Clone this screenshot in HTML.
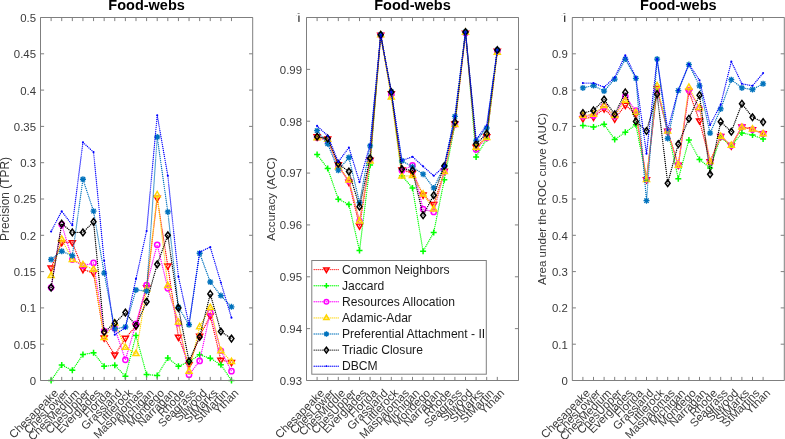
<!DOCTYPE html>
<html><head><meta charset="utf-8"><title>Food-webs</title>
<style>
html,body{margin:0;padding:0;background:#fff;}
body{width:785px;height:439px;overflow:hidden;}
svg{display:block;}
.ln{fill:none;stroke-width:1.4;stroke-dasharray:0 2;stroke-linecap:round;}
.mk{fill:none;stroke-width:1.5;}
.pa{stroke-width:1.3;}
.tl{font-family:'Liberation Sans', Arial, Helvetica, sans-serif;font-size:11.4px;fill:#3a3a3a;}
.yl{font-family:'Liberation Sans', Arial, Helvetica, sans-serif;font-size:12px;fill:#3a3a3a;}
.lg{font-family:'Liberation Sans', Arial, Helvetica, sans-serif;font-size:12.1px;fill:#1a1a1a;}
.ti{font-family:'Liberation Sans', Arial, Helvetica, sans-serif;font-size:14.5px;font-weight:bold;fill:#000;}
</style></head>
<body>
<svg width="785" height="439" viewBox="0 0 785 439">
<rect width="785" height="439" fill="#fff"/>
<g><polyline points="51.11,267.97 61.72,242.56 72.33,242.56 82.94,269.42 93.55,273.05 104.16,337.88 114.77,354.94 125.38,338.25 135.99,326.05 146.6,287.57 157.21,198.27 167.82,266.01 178.43,337.09 189.04,364.53 199.65,336.21 210.26,315.81 220.87,360.17 231.48,362.35" class="ln" stroke="#ff0000"/><path d="M48.11 266.07H54.11L51.11 271.27Z" class="mk" stroke="#ff0000"/><path d="M58.72 240.66H64.72L61.72 245.86Z" class="mk" stroke="#ff0000"/><path d="M69.33 240.66H75.33L72.33 245.86Z" class="mk" stroke="#ff0000"/><path d="M79.94 267.52H85.94L82.94 272.72Z" class="mk" stroke="#ff0000"/><path d="M90.55 271.15H96.55L93.55 276.35Z" class="mk" stroke="#ff0000"/><path d="M101.16 335.98H107.16L104.16 341.18Z" class="mk" stroke="#ff0000"/><path d="M111.77 353.04H117.77L114.77 358.24Z" class="mk" stroke="#ff0000"/><path d="M122.38 336.35H128.38L125.38 341.55Z" class="mk" stroke="#ff0000"/><path d="M132.99 324.15H138.99L135.99 329.35Z" class="mk" stroke="#ff0000"/><path d="M143.6 285.67H149.6L146.6 290.87Z" class="mk" stroke="#ff0000"/><path d="M154.21 196.37H160.21L157.21 201.57Z" class="mk" stroke="#ff0000"/><path d="M164.82 264.11H170.82L167.82 269.31Z" class="mk" stroke="#ff0000"/><path d="M175.43 335.19H181.43L178.43 340.39Z" class="mk" stroke="#ff0000"/><path d="M186.04 362.63H192.04L189.04 367.83Z" class="mk" stroke="#ff0000"/><path d="M196.65 334.31H202.65L199.65 339.51Z" class="mk" stroke="#ff0000"/><path d="M207.26 313.91H213.26L210.26 319.11Z" class="mk" stroke="#ff0000"/><path d="M217.87 358.27H223.87L220.87 363.47Z" class="mk" stroke="#ff0000"/><path d="M228.48 360.45H234.48L231.48 365.65Z" class="mk" stroke="#ff0000"/><polyline points="51.11,380.5 61.72,365.04 72.33,370.34 82.94,354.58 93.55,352.69 104.16,366.27 114.77,365.25 125.38,376.22 135.99,335.49 146.6,374.62 157.21,375.42 167.82,357.99 178.43,366.27 189.04,361.77 199.65,354.8 210.26,358.28 220.87,364.67 231.48,380.5" class="ln" stroke="#00ff00"/><path d="M48.11 380.5H54.11M51.11 377.5V383.5" class="mk" stroke="#00ff00"/><path d="M58.72 365.04H64.72M61.72 362.04V368.04" class="mk" stroke="#00ff00"/><path d="M69.33 370.34H75.33M72.33 367.34V373.34" class="mk" stroke="#00ff00"/><path d="M79.94 354.58H85.94M82.94 351.58V357.58" class="mk" stroke="#00ff00"/><path d="M90.55 352.69H96.55M93.55 349.69V355.69" class="mk" stroke="#00ff00"/><path d="M101.16 366.27H107.16M104.16 363.27V369.27" class="mk" stroke="#00ff00"/><path d="M111.77 365.25H117.77M114.77 362.25V368.25" class="mk" stroke="#00ff00"/><path d="M122.38 376.22H128.38M125.38 373.22V379.22" class="mk" stroke="#00ff00"/><path d="M132.99 335.49H138.99M135.99 332.49V338.49" class="mk" stroke="#00ff00"/><path d="M143.6 374.62H149.6M146.6 371.62V377.62" class="mk" stroke="#00ff00"/><path d="M154.21 375.42H160.21M157.21 372.42V378.42" class="mk" stroke="#00ff00"/><path d="M164.82 357.99H170.82M167.82 354.99V360.99" class="mk" stroke="#00ff00"/><path d="M175.43 366.27H181.43M178.43 363.27V369.27" class="mk" stroke="#00ff00"/><path d="M186.04 361.77H192.04M189.04 358.77V364.77" class="mk" stroke="#00ff00"/><path d="M196.65 354.8H202.65M199.65 351.8V357.8" class="mk" stroke="#00ff00"/><path d="M207.26 358.28H213.26M210.26 355.28V361.28" class="mk" stroke="#00ff00"/><path d="M217.87 364.67H223.87M220.87 361.67V367.67" class="mk" stroke="#00ff00"/><path d="M228.48 380.5H234.48M231.48 377.5V383.5" class="mk" stroke="#00ff00"/><polyline points="51.11,287.57 61.72,224.41 72.33,259.62 82.94,265.79 93.55,262.89 104.16,331.13 114.77,328.23 125.38,359.81 135.99,323.87 146.6,285.1 157.21,244.74 167.82,288.3 178.43,323.15 189.04,374.69 199.65,360.97 210.26,312.4 220.87,350.73 231.48,371.21" class="ln" stroke="#ff00ff"/><circle cx="51.11" cy="287.57" r="2.6" class="mk" stroke="#ff00ff"/><circle cx="61.72" cy="224.41" r="2.6" class="mk" stroke="#ff00ff"/><circle cx="72.33" cy="259.62" r="2.6" class="mk" stroke="#ff00ff"/><circle cx="82.94" cy="265.79" r="2.6" class="mk" stroke="#ff00ff"/><circle cx="93.55" cy="262.89" r="2.6" class="mk" stroke="#ff00ff"/><circle cx="104.16" cy="331.13" r="2.6" class="mk" stroke="#ff00ff"/><circle cx="114.77" cy="328.23" r="2.6" class="mk" stroke="#ff00ff"/><circle cx="125.38" cy="359.81" r="2.6" class="mk" stroke="#ff00ff"/><circle cx="135.99" cy="323.87" r="2.6" class="mk" stroke="#ff00ff"/><circle cx="146.6" cy="285.1" r="2.6" class="mk" stroke="#ff00ff"/><circle cx="157.21" cy="244.74" r="2.6" class="mk" stroke="#ff00ff"/><circle cx="167.82" cy="288.3" r="2.6" class="mk" stroke="#ff00ff"/><circle cx="178.43" cy="323.15" r="2.6" class="mk" stroke="#ff00ff"/><circle cx="189.04" cy="374.69" r="2.6" class="mk" stroke="#ff00ff"/><circle cx="199.65" cy="360.97" r="2.6" class="mk" stroke="#ff00ff"/><circle cx="210.26" cy="312.4" r="2.6" class="mk" stroke="#ff00ff"/><circle cx="220.87" cy="350.73" r="2.6" class="mk" stroke="#ff00ff"/><circle cx="231.48" cy="371.21" r="2.6" class="mk" stroke="#ff00ff"/><polyline points="51.11,275.67 61.72,239.22 72.33,259.62 82.94,264.7 93.55,269.42 104.16,337.67 114.77,323.15 125.38,347.47 135.99,353.64 146.6,289.02 157.21,194.79 167.82,285.61 178.43,322.2 189.04,371.28 199.65,326.78 210.26,307.61 220.87,350.73 231.48,361.62" class="ln" stroke="#ffd500"/><path d="M48.11 277.57H54.11L51.11 272.37Z" class="mk" stroke="#ffd500"/><path d="M58.72 241.12H64.72L61.72 235.92Z" class="mk" stroke="#ffd500"/><path d="M69.33 261.52H75.33L72.33 256.32Z" class="mk" stroke="#ffd500"/><path d="M79.94 266.6H85.94L82.94 261.4Z" class="mk" stroke="#ffd500"/><path d="M90.55 271.32H96.55L93.55 266.12Z" class="mk" stroke="#ffd500"/><path d="M101.16 339.57H107.16L104.16 334.37Z" class="mk" stroke="#ffd500"/><path d="M111.77 325.05H117.77L114.77 319.85Z" class="mk" stroke="#ffd500"/><path d="M122.38 349.37H128.38L125.38 344.17Z" class="mk" stroke="#ffd500"/><path d="M132.99 355.54H138.99L135.99 350.34Z" class="mk" stroke="#ffd500"/><path d="M143.6 290.92H149.6L146.6 285.72Z" class="mk" stroke="#ffd500"/><path d="M154.21 196.69H160.21L157.21 191.49Z" class="mk" stroke="#ffd500"/><path d="M164.82 287.51H170.82L167.82 282.31Z" class="mk" stroke="#ffd500"/><path d="M175.43 324.1H181.43L178.43 318.9Z" class="mk" stroke="#ffd500"/><path d="M186.04 373.18H192.04L189.04 367.98Z" class="mk" stroke="#ffd500"/><path d="M196.65 328.68H202.65L199.65 323.48Z" class="mk" stroke="#ffd500"/><path d="M207.26 309.51H213.26L210.26 304.31Z" class="mk" stroke="#ffd500"/><path d="M217.87 352.63H223.87L220.87 347.43Z" class="mk" stroke="#ffd500"/><path d="M228.48 363.52H234.48L231.48 358.32Z" class="mk" stroke="#ffd500"/><polyline points="51.11,259.48 61.72,251.27 72.33,255.77 82.94,179.25 93.55,211.2 104.16,273.05 114.77,328.95 125.38,326.99 135.99,289.9 146.6,291.2 157.21,137 167.82,211.92 178.43,307.17 189.04,324.74 199.65,253.23 210.26,281.98 220.87,295.56 231.48,306.81" class="ln" stroke="#0072bd"/><path d="M48.11 259.48H54.11M51.11 256.48V262.48M48.91 257.28L53.31 261.68M48.91 261.68L53.31 257.28" class="mk pa" stroke="#0072bd"/><path d="M58.72 251.27H64.72M61.72 248.27V254.27M59.52 249.07L63.92 253.47M59.52 253.47L63.92 249.07" class="mk pa" stroke="#0072bd"/><path d="M69.33 255.77H75.33M72.33 252.77V258.77M70.13 253.57L74.53 257.97M70.13 257.97L74.53 253.57" class="mk pa" stroke="#0072bd"/><path d="M79.94 179.25H85.94M82.94 176.25V182.25M80.74 177.05L85.14 181.45M80.74 181.45L85.14 177.05" class="mk pa" stroke="#0072bd"/><path d="M90.55 211.2H96.55M93.55 208.2V214.2M91.35 209L95.75 213.4M91.35 213.4L95.75 209" class="mk pa" stroke="#0072bd"/><path d="M101.16 273.05H107.16M104.16 270.05V276.05M101.96 270.85L106.36 275.25M101.96 275.25L106.36 270.85" class="mk pa" stroke="#0072bd"/><path d="M111.77 328.95H117.77M114.77 325.95V331.95M112.57 326.75L116.97 331.15M112.57 331.15L116.97 326.75" class="mk pa" stroke="#0072bd"/><path d="M122.38 326.99H128.38M125.38 323.99V329.99M123.18 324.79L127.58 329.19M123.18 329.19L127.58 324.79" class="mk pa" stroke="#0072bd"/><path d="M132.99 289.9H138.99M135.99 286.9V292.9M133.79 287.7L138.19 292.1M133.79 292.1L138.19 287.7" class="mk pa" stroke="#0072bd"/><path d="M143.6 291.2H149.6M146.6 288.2V294.2M144.4 289L148.8 293.4M144.4 293.4L148.8 289" class="mk pa" stroke="#0072bd"/><path d="M154.21 137H160.21M157.21 134V140M155.01 134.8L159.41 139.2M155.01 139.2L159.41 134.8" class="mk pa" stroke="#0072bd"/><path d="M164.82 211.92H170.82M167.82 208.92V214.92M165.62 209.72L170.02 214.12M165.62 214.12L170.02 209.72" class="mk pa" stroke="#0072bd"/><path d="M175.43 307.17H181.43M178.43 304.17V310.17M176.23 304.97L180.63 309.37M176.23 309.37L180.63 304.97" class="mk pa" stroke="#0072bd"/><path d="M186.04 324.74H192.04M189.04 321.74V327.74M186.84 322.54L191.24 326.94M186.84 326.94L191.24 322.54" class="mk pa" stroke="#0072bd"/><path d="M196.65 253.23H202.65M199.65 250.23V256.23M197.45 251.03L201.85 255.43M197.45 255.43L201.85 251.03" class="mk pa" stroke="#0072bd"/><path d="M207.26 281.98H213.26M210.26 278.98V284.98M208.06 279.78L212.46 284.18M208.06 284.18L212.46 279.78" class="mk pa" stroke="#0072bd"/><path d="M217.87 295.56H223.87M220.87 292.56V298.56M218.67 293.36L223.07 297.76M218.67 297.76L223.07 293.36" class="mk pa" stroke="#0072bd"/><path d="M228.48 306.81H234.48M231.48 303.81V309.81M229.28 304.61L233.68 309.01M229.28 309.01L233.68 304.61" class="mk pa" stroke="#0072bd"/><polyline points="51.11,287.57 61.72,223.68 72.33,232.4 82.94,232.4 93.55,221.87 104.16,332 114.77,323.15 125.38,312.62 135.99,325.69 146.6,301.73 157.21,264.34 167.82,235.3 178.43,307.9 189.04,361.26 199.65,336.94 210.26,293.89 220.87,331.5 231.48,338.61" class="ln" stroke="#000000"/><path d="M51.11 284.27L53.56 287.57L51.11 290.87L48.66 287.57Z" class="mk" stroke="#000000"/><path d="M61.72 220.38L64.17 223.68L61.72 226.98L59.27 223.68Z" class="mk" stroke="#000000"/><path d="M72.33 229.1L74.78 232.4L72.33 235.7L69.88 232.4Z" class="mk" stroke="#000000"/><path d="M82.94 229.1L85.39 232.4L82.94 235.7L80.49 232.4Z" class="mk" stroke="#000000"/><path d="M93.55 218.57L96 221.87L93.55 225.17L91.1 221.87Z" class="mk" stroke="#000000"/><path d="M104.16 328.7L106.61 332L104.16 335.3L101.71 332Z" class="mk" stroke="#000000"/><path d="M114.77 319.85L117.22 323.15L114.77 326.45L112.32 323.15Z" class="mk" stroke="#000000"/><path d="M125.38 309.32L127.83 312.62L125.38 315.92L122.93 312.62Z" class="mk" stroke="#000000"/><path d="M135.99 322.39L138.44 325.69L135.99 328.99L133.54 325.69Z" class="mk" stroke="#000000"/><path d="M146.6 298.43L149.05 301.73L146.6 305.03L144.15 301.73Z" class="mk" stroke="#000000"/><path d="M157.21 261.04L159.66 264.34L157.21 267.64L154.76 264.34Z" class="mk" stroke="#000000"/><path d="M167.82 232L170.27 235.3L167.82 238.6L165.37 235.3Z" class="mk" stroke="#000000"/><path d="M178.43 304.6L180.88 307.9L178.43 311.2L175.98 307.9Z" class="mk" stroke="#000000"/><path d="M189.04 357.96L191.49 361.26L189.04 364.56L186.59 361.26Z" class="mk" stroke="#000000"/><path d="M199.65 333.64L202.1 336.94L199.65 340.24L197.2 336.94Z" class="mk" stroke="#000000"/><path d="M210.26 290.59L212.71 293.89L210.26 297.19L207.81 293.89Z" class="mk" stroke="#000000"/><path d="M220.87 328.19L223.32 331.5L220.87 334.8L218.42 331.5Z" class="mk" stroke="#000000"/><path d="M231.48 335.31L233.93 338.61L231.48 341.91L229.03 338.61Z" class="mk" stroke="#000000"/><polyline points="51.11,231.45 61.72,211.2 72.33,225.14 82.94,142.37 93.55,152.1 104.16,260.71 114.77,334.76 125.38,327.72 135.99,278.86 146.6,230.94 157.21,115.22 167.82,175.77 178.43,276.68 189.04,324.6 199.65,252 210.26,247.13 220.87,282.49 231.48,317.77" class="ln" stroke="#0000ff"/><circle cx="51.11" cy="231.45" r="1.05" fill="#0000ff"/><circle cx="61.72" cy="211.2" r="1.05" fill="#0000ff"/><circle cx="72.33" cy="225.14" r="1.05" fill="#0000ff"/><circle cx="82.94" cy="142.37" r="1.05" fill="#0000ff"/><circle cx="93.55" cy="152.1" r="1.05" fill="#0000ff"/><circle cx="104.16" cy="260.71" r="1.05" fill="#0000ff"/><circle cx="114.77" cy="334.76" r="1.05" fill="#0000ff"/><circle cx="125.38" cy="327.72" r="1.05" fill="#0000ff"/><circle cx="135.99" cy="278.86" r="1.05" fill="#0000ff"/><circle cx="146.6" cy="230.94" r="1.05" fill="#0000ff"/><circle cx="157.21" cy="115.22" r="1.05" fill="#0000ff"/><circle cx="167.82" cy="175.77" r="1.05" fill="#0000ff"/><circle cx="178.43" cy="276.68" r="1.05" fill="#0000ff"/><circle cx="189.04" cy="324.6" r="1.05" fill="#0000ff"/><circle cx="199.65" cy="252" r="1.05" fill="#0000ff"/><circle cx="210.26" cy="247.13" r="1.05" fill="#0000ff"/><circle cx="220.87" cy="282.49" r="1.05" fill="#0000ff"/><circle cx="231.48" cy="317.77" r="1.05" fill="#0000ff"/></g>
<path d="M40.5 17.5H252.7V380.5H40.5Z" fill="none" stroke="#7f7f7f" stroke-width="1"/>
<path d="M51.11 380.5v-3.6M51.11 17.5v3.6M61.72 380.5v-3.6M61.72 17.5v3.6M72.33 380.5v-3.6M72.33 17.5v3.6M82.94 380.5v-3.6M82.94 17.5v3.6M93.55 380.5v-3.6M93.55 17.5v3.6M104.16 380.5v-3.6M104.16 17.5v3.6M114.77 380.5v-3.6M114.77 17.5v3.6M125.38 380.5v-3.6M125.38 17.5v3.6M135.99 380.5v-3.6M135.99 17.5v3.6M146.6 380.5v-3.6M146.6 17.5v3.6M157.21 380.5v-3.6M157.21 17.5v3.6M167.82 380.5v-3.6M167.82 17.5v3.6M178.43 380.5v-3.6M178.43 17.5v3.6M189.04 380.5v-3.6M189.04 17.5v3.6M199.65 380.5v-3.6M199.65 17.5v3.6M210.26 380.5v-3.6M210.26 17.5v3.6M220.87 380.5v-3.6M220.87 17.5v3.6M231.48 380.5v-3.6M231.48 17.5v3.6M40.5 380.5h3.6M252.7 380.5h-3.6M40.5 344.2h3.6M252.7 344.2h-3.6M40.5 307.9h3.6M252.7 307.9h-3.6M40.5 271.6h3.6M252.7 271.6h-3.6M40.5 235.3h3.6M252.7 235.3h-3.6M40.5 199h3.6M252.7 199h-3.6M40.5 162.7h3.6M252.7 162.7h-3.6M40.5 126.4h3.6M252.7 126.4h-3.6M40.5 90.1h3.6M252.7 90.1h-3.6M40.5 53.8h3.6M252.7 53.8h-3.6M40.5 17.5h3.6M252.7 17.5h-3.6" stroke="#7f7f7f" stroke-width="1" fill="none"/>
<text x="36" y="384.9" class="tl" text-anchor="end">0</text>
<text x="36" y="348.6" class="tl" text-anchor="end">0.05</text>
<text x="36" y="312.3" class="tl" text-anchor="end">0.1</text>
<text x="36" y="276" class="tl" text-anchor="end">0.15</text>
<text x="36" y="239.7" class="tl" text-anchor="end">0.2</text>
<text x="36" y="203.4" class="tl" text-anchor="end">0.25</text>
<text x="36" y="167.1" class="tl" text-anchor="end">0.3</text>
<text x="36" y="130.8" class="tl" text-anchor="end">0.35</text>
<text x="36" y="94.5" class="tl" text-anchor="end">0.4</text>
<text x="36" y="58.2" class="tl" text-anchor="end">0.45</text>
<text x="36" y="21.9" class="tl" text-anchor="end">0.5</text>
<text transform="translate(8.9,199) rotate(-90)" class="yl" style="font-size:11.9px" text-anchor="middle">Precision (TPR)</text>
<text x="146.6" y="9.9" class="ti" text-anchor="middle">Food-webs</text>
<text transform="translate(58.91,393.7) rotate(-45)" class="tl" text-anchor="end">Chesapeake</text>
<text transform="translate(69.52,393.7) rotate(-45)" class="tl" text-anchor="end">ChesLower</text>
<text transform="translate(80.13,393.7) rotate(-45)" class="tl" text-anchor="end">ChesMedium</text>
<text transform="translate(90.74,393.7) rotate(-45)" class="tl" text-anchor="end">ChesUpper</text>
<text transform="translate(101.35,393.7) rotate(-45)" class="tl" text-anchor="end">Everglades</text>
<text transform="translate(111.96,393.7) rotate(-45)" class="tl" text-anchor="end">Florida</text>
<text transform="translate(122.57,393.7) rotate(-45)" class="tl" text-anchor="end">Grassland</text>
<text transform="translate(133.18,393.7) rotate(-45)" class="tl" text-anchor="end">Littlerock</text>
<text transform="translate(143.79,393.7) rotate(-45)" class="tl" text-anchor="end">Maspalomas</text>
<text transform="translate(154.4,393.7) rotate(-45)" class="tl" text-anchor="end">Michigan</text>
<text transform="translate(165.01,393.7) rotate(-45)" class="tl" text-anchor="end">Mondego</text>
<text transform="translate(175.62,393.7) rotate(-45)" class="tl" text-anchor="end">Narragan</text>
<text transform="translate(186.23,393.7) rotate(-45)" class="tl" text-anchor="end">Rhode</text>
<text transform="translate(196.84,393.7) rotate(-45)" class="tl" text-anchor="end">Seagrass</text>
<text transform="translate(207.45,393.7) rotate(-45)" class="tl" text-anchor="end">Silwood</text>
<text transform="translate(218.06,393.7) rotate(-45)" class="tl" text-anchor="end">StMarks</text>
<text transform="translate(228.67,393.7) rotate(-45)" class="tl" text-anchor="end">StMartin</text>
<text transform="translate(239.28,393.7) rotate(-45)" class="tl" text-anchor="end">Ythan</text>
<g><polyline points="317.1,136.77 327.7,138.85 338.3,164.77 348.9,182.09 359.5,225.91 370.1,160.11 380.7,35.13 391.3,93.73 401.9,169.96 412.5,173.07 423.1,194.85 433.7,204.39 444.3,171.2 454.9,123.81 465.5,33.06 476.1,147.14 486.7,136.77 497.3,51.21" class="ln" stroke="#ff0000"/><path d="M314.1 134.87H320.1L317.1 140.07Z" class="mk" stroke="#ff0000"/><path d="M324.7 136.95H330.7L327.7 142.15Z" class="mk" stroke="#ff0000"/><path d="M335.3 162.87H341.3L338.3 168.07Z" class="mk" stroke="#ff0000"/><path d="M345.9 180.19H351.9L348.9 185.39Z" class="mk" stroke="#ff0000"/><path d="M356.5 224.01H362.5L359.5 229.21Z" class="mk" stroke="#ff0000"/><path d="M367.1 158.21H373.1L370.1 163.41Z" class="mk" stroke="#ff0000"/><path d="M377.7 33.23H383.7L380.7 38.43Z" class="mk" stroke="#ff0000"/><path d="M388.3 91.83H394.3L391.3 97.03Z" class="mk" stroke="#ff0000"/><path d="M398.9 168.06H404.9L401.9 173.26Z" class="mk" stroke="#ff0000"/><path d="M409.5 171.17H415.5L412.5 176.37Z" class="mk" stroke="#ff0000"/><path d="M420.1 192.95H426.1L423.1 198.15Z" class="mk" stroke="#ff0000"/><path d="M430.7 202.49H436.7L433.7 207.69Z" class="mk" stroke="#ff0000"/><path d="M441.3 169.3H447.3L444.3 174.5Z" class="mk" stroke="#ff0000"/><path d="M451.9 121.91H457.9L454.9 127.11Z" class="mk" stroke="#ff0000"/><path d="M462.5 31.16H468.5L465.5 36.36Z" class="mk" stroke="#ff0000"/><path d="M473.1 145.24H479.1L476.1 150.44Z" class="mk" stroke="#ff0000"/><path d="M483.7 134.87H489.7L486.7 140.07Z" class="mk" stroke="#ff0000"/><path d="M494.3 49.31H500.3L497.3 54.51Z" class="mk" stroke="#ff0000"/><polyline points="317.1,154.4 327.7,168.51 338.3,199.16 348.9,204.39 359.5,250.6 370.1,165.03 380.7,35.13 391.3,95.29 401.9,175.66 412.5,188.01 423.1,251.27 433.7,232.5 444.3,179.81 454.9,124.84 465.5,32.02 476.1,157 486.7,138.85 497.3,51.21" class="ln" stroke="#00ff00"/><path d="M314.1 154.4H320.1M317.1 151.4V157.4" class="mk" stroke="#00ff00"/><path d="M324.7 168.51H330.7M327.7 165.51V171.51" class="mk" stroke="#00ff00"/><path d="M335.3 199.16H341.3M338.3 196.16V202.16" class="mk" stroke="#00ff00"/><path d="M345.9 204.39H351.9M348.9 201.39V207.39" class="mk" stroke="#00ff00"/><path d="M356.5 250.6H362.5M359.5 247.6V253.6" class="mk" stroke="#00ff00"/><path d="M367.1 165.03H373.1M370.1 162.03V168.03" class="mk" stroke="#00ff00"/><path d="M377.7 35.13H383.7M380.7 32.13V38.13" class="mk" stroke="#00ff00"/><path d="M388.3 95.29H394.3M391.3 92.29V98.29" class="mk" stroke="#00ff00"/><path d="M398.9 175.66H404.9M401.9 172.66V178.66" class="mk" stroke="#00ff00"/><path d="M409.5 188.01H415.5M412.5 185.01V191.01" class="mk" stroke="#00ff00"/><path d="M420.1 251.27H426.1M423.1 248.27V254.27" class="mk" stroke="#00ff00"/><path d="M430.7 232.5H436.7M433.7 229.5V235.5" class="mk" stroke="#00ff00"/><path d="M441.3 179.81H447.3M444.3 176.81V182.81" class="mk" stroke="#00ff00"/><path d="M451.9 124.84H457.9M454.9 121.84V127.84" class="mk" stroke="#00ff00"/><path d="M462.5 32.02H468.5M465.5 29.02V35.02" class="mk" stroke="#00ff00"/><path d="M473.1 157H479.1M476.1 154V160" class="mk" stroke="#00ff00"/><path d="M483.7 138.85H489.7M486.7 135.85V141.85" class="mk" stroke="#00ff00"/><path d="M494.3 51.21H500.3M497.3 48.21V54.21" class="mk" stroke="#00ff00"/><polyline points="317.1,137.81 327.7,140.4 338.3,166.85 348.9,180.85 359.5,221.09 370.1,160.11 380.7,35.13 391.3,94.25 401.9,170.48 412.5,165.29 423.1,209.11 433.7,211.96 444.3,171.52 454.9,124.58 465.5,33.06 476.1,149.48 486.7,137.81 497.3,51.21" class="ln" stroke="#ff00ff"/><circle cx="317.1" cy="137.81" r="2.6" class="mk" stroke="#ff00ff"/><circle cx="327.7" cy="140.4" r="2.6" class="mk" stroke="#ff00ff"/><circle cx="338.3" cy="166.85" r="2.6" class="mk" stroke="#ff00ff"/><circle cx="348.9" cy="180.85" r="2.6" class="mk" stroke="#ff00ff"/><circle cx="359.5" cy="221.09" r="2.6" class="mk" stroke="#ff00ff"/><circle cx="370.1" cy="160.11" r="2.6" class="mk" stroke="#ff00ff"/><circle cx="380.7" cy="35.13" r="2.6" class="mk" stroke="#ff00ff"/><circle cx="391.3" cy="94.25" r="2.6" class="mk" stroke="#ff00ff"/><circle cx="401.9" cy="170.48" r="2.6" class="mk" stroke="#ff00ff"/><circle cx="412.5" cy="165.29" r="2.6" class="mk" stroke="#ff00ff"/><circle cx="423.1" cy="209.11" r="2.6" class="mk" stroke="#ff00ff"/><circle cx="433.7" cy="211.96" r="2.6" class="mk" stroke="#ff00ff"/><circle cx="444.3" cy="171.52" r="2.6" class="mk" stroke="#ff00ff"/><circle cx="454.9" cy="124.58" r="2.6" class="mk" stroke="#ff00ff"/><circle cx="465.5" cy="33.06" r="2.6" class="mk" stroke="#ff00ff"/><circle cx="476.1" cy="149.48" r="2.6" class="mk" stroke="#ff00ff"/><circle cx="486.7" cy="137.81" r="2.6" class="mk" stroke="#ff00ff"/><circle cx="497.3" cy="51.21" r="2.6" class="mk" stroke="#ff00ff"/><polyline points="317.1,137.81 327.7,139.36 338.3,166.85 348.9,180.12 359.5,221.09 370.1,160.99 380.7,34.92 391.3,97.1 401.9,176.18 412.5,175.66 423.1,194.02 433.7,209.11 444.3,171.72 454.9,124.58 465.5,32.28 476.1,147.35 486.7,137.6 497.3,52.24" class="ln" stroke="#ffd500"/><path d="M314.1 139.71H320.1L317.1 134.51Z" class="mk" stroke="#ffd500"/><path d="M324.7 141.26H330.7L327.7 136.06Z" class="mk" stroke="#ffd500"/><path d="M335.3 168.75H341.3L338.3 163.55Z" class="mk" stroke="#ffd500"/><path d="M345.9 182.02H351.9L348.9 176.82Z" class="mk" stroke="#ffd500"/><path d="M356.5 222.99H362.5L359.5 217.79Z" class="mk" stroke="#ffd500"/><path d="M367.1 162.89H373.1L370.1 157.69Z" class="mk" stroke="#ffd500"/><path d="M377.7 36.82H383.7L380.7 31.62Z" class="mk" stroke="#ffd500"/><path d="M388.3 99H394.3L391.3 93.8Z" class="mk" stroke="#ffd500"/><path d="M398.9 178.08H404.9L401.9 172.88Z" class="mk" stroke="#ffd500"/><path d="M409.5 177.56H415.5L412.5 172.36Z" class="mk" stroke="#ffd500"/><path d="M420.1 195.92H426.1L423.1 190.72Z" class="mk" stroke="#ffd500"/><path d="M430.7 211.01H436.7L433.7 205.81Z" class="mk" stroke="#ffd500"/><path d="M441.3 173.62H447.3L444.3 168.42Z" class="mk" stroke="#ffd500"/><path d="M451.9 126.48H457.9L454.9 121.28Z" class="mk" stroke="#ffd500"/><path d="M462.5 34.18H468.5L465.5 28.98Z" class="mk" stroke="#ffd500"/><path d="M473.1 149.25H479.1L476.1 144.05Z" class="mk" stroke="#ffd500"/><path d="M483.7 139.5H489.7L486.7 134.3Z" class="mk" stroke="#ffd500"/><path d="M494.3 54.14H500.3L497.3 48.94Z" class="mk" stroke="#ffd500"/><polyline points="317.1,130.7 327.7,143.77 338.3,170.22 348.9,157.51 359.5,202.63 370.1,145.9 380.7,34.61 391.3,91.66 401.9,160.78 412.5,166.85 423.1,174.21 433.7,187.9 444.3,166.12 454.9,116.39 465.5,32.02 476.1,140.92 486.7,128.01 497.3,50.01" class="ln" stroke="#0072bd"/><path d="M314.1 130.7H320.1M317.1 127.7V133.7M314.9 128.5L319.3 132.9M314.9 132.9L319.3 128.5" class="mk pa" stroke="#0072bd"/><path d="M324.7 143.77H330.7M327.7 140.77V146.77M325.5 141.57L329.9 145.97M325.5 145.97L329.9 141.57" class="mk pa" stroke="#0072bd"/><path d="M335.3 170.22H341.3M338.3 167.22V173.22M336.1 168.02L340.5 172.42M336.1 172.42L340.5 168.02" class="mk pa" stroke="#0072bd"/><path d="M345.9 157.51H351.9M348.9 154.51V160.51M346.7 155.31L351.1 159.71M346.7 159.71L351.1 155.31" class="mk pa" stroke="#0072bd"/><path d="M356.5 202.63H362.5M359.5 199.63V205.63M357.3 200.43L361.7 204.83M357.3 204.83L361.7 200.43" class="mk pa" stroke="#0072bd"/><path d="M367.1 145.9H373.1M370.1 142.9V148.9M367.9 143.7L372.3 148.1M367.9 148.1L372.3 143.7" class="mk pa" stroke="#0072bd"/><path d="M377.7 34.61H383.7M380.7 31.61V37.61M378.5 32.41L382.9 36.81M378.5 36.81L382.9 32.41" class="mk pa" stroke="#0072bd"/><path d="M388.3 91.66H394.3M391.3 88.66V94.66M389.1 89.46L393.5 93.86M389.1 93.86L393.5 89.46" class="mk pa" stroke="#0072bd"/><path d="M398.9 160.78H404.9M401.9 157.78V163.78M399.7 158.58L404.1 162.98M399.7 162.98L404.1 158.58" class="mk pa" stroke="#0072bd"/><path d="M409.5 166.85H415.5M412.5 163.85V169.85M410.3 164.65L414.7 169.05M410.3 169.05L414.7 164.65" class="mk pa" stroke="#0072bd"/><path d="M420.1 174.21H426.1M423.1 171.21V177.21M420.9 172.01L425.3 176.41M420.9 176.41L425.3 172.01" class="mk pa" stroke="#0072bd"/><path d="M430.7 187.9H436.7M433.7 184.9V190.9M431.5 185.7L435.9 190.1M431.5 190.1L435.9 185.7" class="mk pa" stroke="#0072bd"/><path d="M441.3 166.12H447.3M444.3 163.12V169.12M442.1 163.92L446.5 168.32M442.1 168.32L446.5 163.92" class="mk pa" stroke="#0072bd"/><path d="M451.9 116.39H457.9M454.9 113.39V119.39M452.7 114.19L457.1 118.59M452.7 118.59L457.1 114.19" class="mk pa" stroke="#0072bd"/><path d="M462.5 32.02H468.5M465.5 29.02V35.02M463.3 29.82L467.7 34.22M463.3 34.22L467.7 29.82" class="mk pa" stroke="#0072bd"/><path d="M473.1 140.92H479.1M476.1 137.92V143.92M473.9 138.72L478.3 143.12M473.9 143.12L478.3 138.72" class="mk pa" stroke="#0072bd"/><path d="M483.7 128.01H489.7M486.7 125.01V131.01M484.5 125.81L488.9 130.21M484.5 130.21L488.9 125.81" class="mk pa" stroke="#0072bd"/><path d="M494.3 50.01H500.3M497.3 47.01V53.01M495.1 47.81L499.5 52.21M495.1 52.21L499.5 47.81" class="mk pa" stroke="#0072bd"/><polyline points="317.1,136.77 327.7,138.43 338.3,163.74 348.9,171.62 359.5,206.67 370.1,158.19 380.7,34.82 391.3,92.12 401.9,169.08 412.5,170.43 423.1,215.28 433.7,195.21 444.3,166.02 454.9,122.1 465.5,32.02 476.1,144.08 486.7,133.61 497.3,50.01" class="ln" stroke="#000000"/><path d="M317.1 133.47L319.55 136.77L317.1 140.07L314.65 136.77Z" class="mk" stroke="#000000"/><path d="M327.7 135.13L330.15 138.43L327.7 141.73L325.25 138.43Z" class="mk" stroke="#000000"/><path d="M338.3 160.44L340.75 163.74L338.3 167.04L335.85 163.74Z" class="mk" stroke="#000000"/><path d="M348.9 168.32L351.35 171.62L348.9 174.92L346.45 171.62Z" class="mk" stroke="#000000"/><path d="M359.5 203.37L361.95 206.67L359.5 209.97L357.05 206.67Z" class="mk" stroke="#000000"/><path d="M370.1 154.89L372.55 158.19L370.1 161.49L367.65 158.19Z" class="mk" stroke="#000000"/><path d="M380.7 31.52L383.15 34.82L380.7 38.12L378.25 34.82Z" class="mk" stroke="#000000"/><path d="M391.3 88.82L393.75 92.12L391.3 95.42L388.85 92.12Z" class="mk" stroke="#000000"/><path d="M401.9 165.78L404.35 169.08L401.9 172.38L399.45 169.08Z" class="mk" stroke="#000000"/><path d="M412.5 167.13L414.95 170.43L412.5 173.73L410.05 170.43Z" class="mk" stroke="#000000"/><path d="M423.1 211.98L425.55 215.28L423.1 218.58L420.65 215.28Z" class="mk" stroke="#000000"/><path d="M433.7 191.91L436.15 195.21L433.7 198.51L431.25 195.21Z" class="mk" stroke="#000000"/><path d="M444.3 162.72L446.75 166.02L444.3 169.32L441.85 166.02Z" class="mk" stroke="#000000"/><path d="M454.9 118.8L457.35 122.1L454.9 125.4L452.45 122.1Z" class="mk" stroke="#000000"/><path d="M465.5 28.72L467.95 32.02L465.5 35.32L463.05 32.02Z" class="mk" stroke="#000000"/><path d="M476.1 140.78L478.55 144.08L476.1 147.38L473.65 144.08Z" class="mk" stroke="#000000"/><path d="M486.7 130.31L489.15 133.61L486.7 136.91L484.25 133.61Z" class="mk" stroke="#000000"/><path d="M497.3 46.71L499.75 50.01L497.3 53.31L494.85 50.01Z" class="mk" stroke="#000000"/><polyline points="317.1,125.88 327.7,135.73 338.3,161.92 348.9,147.51 359.5,182.09 370.1,144.55 380.7,34.82 391.3,91.91 401.9,160.63 412.5,156.68 423.1,166.33 433.7,175.82 444.3,166.12 454.9,116.03 465.5,32.02 476.1,139.68 486.7,125.31 497.3,50.01" class="ln" stroke="#0000ff"/><circle cx="317.1" cy="125.88" r="1.05" fill="#0000ff"/><circle cx="327.7" cy="135.73" r="1.05" fill="#0000ff"/><circle cx="338.3" cy="161.92" r="1.05" fill="#0000ff"/><circle cx="348.9" cy="147.51" r="1.05" fill="#0000ff"/><circle cx="359.5" cy="182.09" r="1.05" fill="#0000ff"/><circle cx="370.1" cy="144.55" r="1.05" fill="#0000ff"/><circle cx="380.7" cy="34.82" r="1.05" fill="#0000ff"/><circle cx="391.3" cy="91.91" r="1.05" fill="#0000ff"/><circle cx="401.9" cy="160.63" r="1.05" fill="#0000ff"/><circle cx="412.5" cy="156.68" r="1.05" fill="#0000ff"/><circle cx="423.1" cy="166.33" r="1.05" fill="#0000ff"/><circle cx="433.7" cy="175.82" r="1.05" fill="#0000ff"/><circle cx="444.3" cy="166.12" r="1.05" fill="#0000ff"/><circle cx="454.9" cy="116.03" r="1.05" fill="#0000ff"/><circle cx="465.5" cy="32.02" r="1.05" fill="#0000ff"/><circle cx="476.1" cy="139.68" r="1.05" fill="#0000ff"/><circle cx="486.7" cy="125.31" r="1.05" fill="#0000ff"/><circle cx="497.3" cy="50.01" r="1.05" fill="#0000ff"/></g>
<path d="M306.5 17.5H518.5V380.5H306.5Z" fill="none" stroke="#7f7f7f" stroke-width="1"/>
<path d="M317.1 380.5v-3.6M317.1 17.5v3.6M327.7 380.5v-3.6M327.7 17.5v3.6M338.3 380.5v-3.6M338.3 17.5v3.6M348.9 380.5v-3.6M348.9 17.5v3.6M359.5 380.5v-3.6M359.5 17.5v3.6M370.1 380.5v-3.6M370.1 17.5v3.6M380.7 380.5v-3.6M380.7 17.5v3.6M391.3 380.5v-3.6M391.3 17.5v3.6M401.9 380.5v-3.6M401.9 17.5v3.6M412.5 380.5v-3.6M412.5 17.5v3.6M423.1 380.5v-3.6M423.1 17.5v3.6M433.7 380.5v-3.6M433.7 17.5v3.6M444.3 380.5v-3.6M444.3 17.5v3.6M454.9 380.5v-3.6M454.9 17.5v3.6M465.5 380.5v-3.6M465.5 17.5v3.6M476.1 380.5v-3.6M476.1 17.5v3.6M486.7 380.5v-3.6M486.7 17.5v3.6M497.3 380.5v-3.6M497.3 17.5v3.6M306.5 380.5h3.6M518.5 380.5h-3.6M306.5 328.64h3.6M518.5 328.64h-3.6M306.5 276.79h3.6M518.5 276.79h-3.6M306.5 224.93h3.6M518.5 224.93h-3.6M306.5 173.07h3.6M518.5 173.07h-3.6M306.5 121.21h3.6M518.5 121.21h-3.6M306.5 69.36h3.6M518.5 69.36h-3.6M306.5 17.5h3.6M518.5 17.5h-3.6" stroke="#7f7f7f" stroke-width="1" fill="none"/>
<text x="302" y="384.9" class="tl" text-anchor="end">0.93</text>
<text x="302" y="333.04" class="tl" text-anchor="end">0.94</text>
<text x="302" y="281.19" class="tl" text-anchor="end">0.95</text>
<text x="302" y="229.33" class="tl" text-anchor="end">0.96</text>
<text x="302" y="177.47" class="tl" text-anchor="end">0.97</text>
<text x="302" y="125.61" class="tl" text-anchor="end">0.98</text>
<text x="302" y="73.76" class="tl" text-anchor="end">0.99</text>
<text x="302.8" y="23.1" class="tl" style="font-size:15px" text-anchor="end">1</text>
<rect x="292.5" y="21.9" width="10.5" height="2" fill="#fff"/>
<rect x="293.5" y="13.6" width="8" height="1.9" fill="#fff"/>
<text transform="translate(274.6,199) rotate(-90)" class="yl" style="font-size:11.65px" text-anchor="middle">Accuracy (ACC)</text>
<text x="412.5" y="9.9" class="ti" text-anchor="middle">Food-webs</text>
<text transform="translate(324.9,393.7) rotate(-45)" class="tl" text-anchor="end">Chesapeake</text>
<text transform="translate(335.5,393.7) rotate(-45)" class="tl" text-anchor="end">ChesLower</text>
<text transform="translate(346.1,393.7) rotate(-45)" class="tl" text-anchor="end">ChesMiddle</text>
<text transform="translate(356.7,393.7) rotate(-45)" class="tl" text-anchor="end">ChesUpper</text>
<text transform="translate(367.3,393.7) rotate(-45)" class="tl" text-anchor="end">Everglades</text>
<text transform="translate(377.9,393.7) rotate(-45)" class="tl" text-anchor="end">Florida</text>
<text transform="translate(388.5,393.7) rotate(-45)" class="tl" text-anchor="end">Grassland</text>
<text transform="translate(399.1,393.7) rotate(-45)" class="tl" text-anchor="end">Littlerock</text>
<text transform="translate(409.7,393.7) rotate(-45)" class="tl" text-anchor="end">Maspalomas</text>
<text transform="translate(420.3,393.7) rotate(-45)" class="tl" text-anchor="end">Michigan</text>
<text transform="translate(430.9,393.7) rotate(-45)" class="tl" text-anchor="end">Mondego</text>
<text transform="translate(441.5,393.7) rotate(-45)" class="tl" text-anchor="end">Narragan</text>
<text transform="translate(452.1,393.7) rotate(-45)" class="tl" text-anchor="end">Rhode</text>
<text transform="translate(462.7,393.7) rotate(-45)" class="tl" text-anchor="end">Seagrass</text>
<text transform="translate(473.3,393.7) rotate(-45)" class="tl" text-anchor="end">Silwood</text>
<text transform="translate(483.9,393.7) rotate(-45)" class="tl" text-anchor="end">StMarks</text>
<text transform="translate(494.5,393.7) rotate(-45)" class="tl" text-anchor="end">StMartin</text>
<text transform="translate(505.1,393.7) rotate(-45)" class="tl" text-anchor="end">Ythan</text>
<g><polyline points="582.9,118.7 593.5,117.11 604.1,108.79 614.7,118.99 625.3,105.2 635.9,113.91 646.5,179.62 657.1,88.28 667.7,131.19 678.3,165.24 688.9,91.41 699.5,120.81 710.1,161.68 720.7,136.38 731.3,146 741.9,126.8 752.5,129.59 763.1,133.66" class="ln" stroke="#ff0000"/><path d="M579.9 116.8H585.9L582.9 122Z" class="mk" stroke="#ff0000"/><path d="M590.5 115.21H596.5L593.5 120.41Z" class="mk" stroke="#ff0000"/><path d="M601.1 106.89H607.1L604.1 112.09Z" class="mk" stroke="#ff0000"/><path d="M611.7 117.09H617.7L614.7 122.29Z" class="mk" stroke="#ff0000"/><path d="M622.3 103.3H628.3L625.3 108.5Z" class="mk" stroke="#ff0000"/><path d="M632.9 112.01H638.9L635.9 117.21Z" class="mk" stroke="#ff0000"/><path d="M643.5 177.72H649.5L646.5 182.92Z" class="mk" stroke="#ff0000"/><path d="M654.1 86.38H660.1L657.1 91.58Z" class="mk" stroke="#ff0000"/><path d="M664.7 129.29H670.7L667.7 134.49Z" class="mk" stroke="#ff0000"/><path d="M675.3 163.34H681.3L678.3 168.54Z" class="mk" stroke="#ff0000"/><path d="M685.9 89.51H691.9L688.9 94.71Z" class="mk" stroke="#ff0000"/><path d="M696.5 118.91H702.5L699.5 124.11Z" class="mk" stroke="#ff0000"/><path d="M707.1 159.78H713.1L710.1 164.98Z" class="mk" stroke="#ff0000"/><path d="M717.7 134.48H723.7L720.7 139.68Z" class="mk" stroke="#ff0000"/><path d="M728.3 144.1H734.3L731.3 149.3Z" class="mk" stroke="#ff0000"/><path d="M738.9 124.9H744.9L741.9 130.1Z" class="mk" stroke="#ff0000"/><path d="M749.5 127.69H755.5L752.5 132.89Z" class="mk" stroke="#ff0000"/><path d="M760.1 131.76H766.1L763.1 136.96Z" class="mk" stroke="#ff0000"/><polyline points="582.9,125.38 593.5,126.98 604.1,124.29 614.7,139.5 625.3,132.28 635.9,124.8 646.5,179.62 657.1,90.1 667.7,130.03 678.3,178.78 688.9,140.01 699.5,159.61 710.1,167.89 720.7,137.29 731.3,146 741.9,133.01 752.5,135 763.1,139.1" class="ln" stroke="#00ff00"/><path d="M579.9 125.38H585.9M582.9 122.38V128.38" class="mk" stroke="#00ff00"/><path d="M590.5 126.98H596.5M593.5 123.98V129.98" class="mk" stroke="#00ff00"/><path d="M601.1 124.29H607.1M604.1 121.29V127.29" class="mk" stroke="#00ff00"/><path d="M611.7 139.5H617.7M614.7 136.5V142.5" class="mk" stroke="#00ff00"/><path d="M622.3 132.28H628.3M625.3 129.28V135.28" class="mk" stroke="#00ff00"/><path d="M632.9 124.8H638.9M635.9 121.8V127.8" class="mk" stroke="#00ff00"/><path d="M643.5 179.62H649.5M646.5 176.62V182.62" class="mk" stroke="#00ff00"/><path d="M654.1 90.1H660.1M657.1 87.1V93.1" class="mk" stroke="#00ff00"/><path d="M664.7 130.03H670.7M667.7 127.03V133.03" class="mk" stroke="#00ff00"/><path d="M675.3 178.78H681.3M678.3 175.78V181.78" class="mk" stroke="#00ff00"/><path d="M685.9 140.01H691.9M688.9 137.01V143.01" class="mk" stroke="#00ff00"/><path d="M696.5 159.61H702.5M699.5 156.61V162.61" class="mk" stroke="#00ff00"/><path d="M707.1 167.89H713.1M710.1 164.89V170.89" class="mk" stroke="#00ff00"/><path d="M717.7 137.29H723.7M720.7 134.29V140.29" class="mk" stroke="#00ff00"/><path d="M728.3 146H734.3M731.3 143V149" class="mk" stroke="#00ff00"/><path d="M738.9 133.01H744.9M741.9 130.01V136.01" class="mk" stroke="#00ff00"/><path d="M749.5 135H755.5M752.5 132V138" class="mk" stroke="#00ff00"/><path d="M760.1 139.1H766.1M763.1 136.1V142.1" class="mk" stroke="#00ff00"/><polyline points="582.9,116.24 593.5,115.51 604.1,106.44 614.7,116.24 625.3,96.42 635.9,110.72 646.5,179.62 657.1,90.1 667.7,131.19 678.3,165.24 688.9,90.1 699.5,108.25 710.1,161.68 720.7,136.38 731.3,145.38 741.9,126.8 752.5,129.59 763.1,133.66" class="ln" stroke="#ff00ff"/><circle cx="582.9" cy="116.24" r="2.6" class="mk" stroke="#ff00ff"/><circle cx="593.5" cy="115.51" r="2.6" class="mk" stroke="#ff00ff"/><circle cx="604.1" cy="106.44" r="2.6" class="mk" stroke="#ff00ff"/><circle cx="614.7" cy="116.24" r="2.6" class="mk" stroke="#ff00ff"/><circle cx="625.3" cy="96.42" r="2.6" class="mk" stroke="#ff00ff"/><circle cx="635.9" cy="110.72" r="2.6" class="mk" stroke="#ff00ff"/><circle cx="646.5" cy="179.62" r="2.6" class="mk" stroke="#ff00ff"/><circle cx="657.1" cy="90.1" r="2.6" class="mk" stroke="#ff00ff"/><circle cx="667.7" cy="131.19" r="2.6" class="mk" stroke="#ff00ff"/><circle cx="678.3" cy="165.24" r="2.6" class="mk" stroke="#ff00ff"/><circle cx="688.9" cy="90.1" r="2.6" class="mk" stroke="#ff00ff"/><circle cx="699.5" cy="108.25" r="2.6" class="mk" stroke="#ff00ff"/><circle cx="710.1" cy="161.68" r="2.6" class="mk" stroke="#ff00ff"/><circle cx="720.7" cy="136.38" r="2.6" class="mk" stroke="#ff00ff"/><circle cx="731.3" cy="145.38" r="2.6" class="mk" stroke="#ff00ff"/><circle cx="741.9" cy="126.8" r="2.6" class="mk" stroke="#ff00ff"/><circle cx="752.5" cy="129.59" r="2.6" class="mk" stroke="#ff00ff"/><circle cx="763.1" cy="133.66" r="2.6" class="mk" stroke="#ff00ff"/><polyline points="582.9,115.51 593.5,114.42 604.1,105.6 614.7,115.51 625.3,100.41 635.9,112.32 646.5,179.62 657.1,85.78 667.7,131.19 678.3,165.24 688.9,87.2 699.5,107.81 710.1,161.68 720.7,136.38 731.3,145.38 741.9,127.2 752.5,129.01 763.1,133.81" class="ln" stroke="#ffd500"/><path d="M579.9 117.41H585.9L582.9 112.21Z" class="mk" stroke="#ffd500"/><path d="M590.5 116.32H596.5L593.5 111.12Z" class="mk" stroke="#ffd500"/><path d="M601.1 107.5H607.1L604.1 102.3Z" class="mk" stroke="#ffd500"/><path d="M611.7 117.41H617.7L614.7 112.21Z" class="mk" stroke="#ffd500"/><path d="M622.3 102.31H628.3L625.3 97.11Z" class="mk" stroke="#ffd500"/><path d="M632.9 114.22H638.9L635.9 109.02Z" class="mk" stroke="#ffd500"/><path d="M643.5 181.52H649.5L646.5 176.32Z" class="mk" stroke="#ffd500"/><path d="M654.1 87.68H660.1L657.1 82.48Z" class="mk" stroke="#ffd500"/><path d="M664.7 133.09H670.7L667.7 127.89Z" class="mk" stroke="#ffd500"/><path d="M675.3 167.14H681.3L678.3 161.94Z" class="mk" stroke="#ffd500"/><path d="M685.9 89.1H691.9L688.9 83.9Z" class="mk" stroke="#ffd500"/><path d="M696.5 109.71H702.5L699.5 104.51Z" class="mk" stroke="#ffd500"/><path d="M707.1 163.58H713.1L710.1 158.38Z" class="mk" stroke="#ffd500"/><path d="M717.7 138.28H723.7L720.7 133.08Z" class="mk" stroke="#ffd500"/><path d="M728.3 147.28H734.3L731.3 142.08Z" class="mk" stroke="#ffd500"/><path d="M738.9 129.1H744.9L741.9 123.9Z" class="mk" stroke="#ffd500"/><path d="M749.5 130.91H755.5L752.5 125.71Z" class="mk" stroke="#ffd500"/><path d="M760.1 135.71H766.1L763.1 130.51Z" class="mk" stroke="#ffd500"/><polyline points="582.9,87.92 593.5,85.49 604.1,91.12 614.7,79.1 625.3,59.1 635.9,78.3 646.5,200.71 657.1,59.1 667.7,138.49 678.3,90.61 688.9,64.62 699.5,85.78 710.1,133.12 720.7,108.9 731.3,79.68 741.9,87.92 752.5,89.48 763.1,83.78" class="ln" stroke="#0072bd"/><path d="M579.9 87.92H585.9M582.9 84.92V90.92M580.7 85.72L585.1 90.12M580.7 90.12L585.1 85.72" class="mk pa" stroke="#0072bd"/><path d="M590.5 85.49H596.5M593.5 82.49V88.49M591.3 83.29L595.7 87.69M591.3 87.69L595.7 83.29" class="mk pa" stroke="#0072bd"/><path d="M601.1 91.12H607.1M604.1 88.12V94.12M601.9 88.92L606.3 93.32M601.9 93.32L606.3 88.92" class="mk pa" stroke="#0072bd"/><path d="M611.7 79.1H617.7M614.7 76.1V82.1M612.5 76.9L616.9 81.3M612.5 81.3L616.9 76.9" class="mk pa" stroke="#0072bd"/><path d="M622.3 59.1H628.3M625.3 56.1V62.1M623.1 56.9L627.5 61.3M623.1 61.3L627.5 56.9" class="mk pa" stroke="#0072bd"/><path d="M632.9 78.3H638.9M635.9 75.3V81.3M633.7 76.1L638.1 80.5M633.7 80.5L638.1 76.1" class="mk pa" stroke="#0072bd"/><path d="M643.5 200.71H649.5M646.5 197.71V203.71M644.3 198.51L648.7 202.91M644.3 202.91L648.7 198.51" class="mk pa" stroke="#0072bd"/><path d="M654.1 59.1H660.1M657.1 56.1V62.1M654.9 56.9L659.3 61.3M654.9 61.3L659.3 56.9" class="mk pa" stroke="#0072bd"/><path d="M664.7 138.49H670.7M667.7 135.49V141.49M665.5 136.29L669.9 140.69M665.5 140.69L669.9 136.29" class="mk pa" stroke="#0072bd"/><path d="M675.3 90.61H681.3M678.3 87.61V93.61M676.1 88.41L680.5 92.81M676.1 92.81L680.5 88.41" class="mk pa" stroke="#0072bd"/><path d="M685.9 64.62H691.9M688.9 61.62V67.62M686.7 62.42L691.1 66.82M686.7 66.82L691.1 62.42" class="mk pa" stroke="#0072bd"/><path d="M696.5 85.78H702.5M699.5 82.78V88.78M697.3 83.58L701.7 87.98M697.3 87.98L701.7 83.58" class="mk pa" stroke="#0072bd"/><path d="M707.1 133.12H713.1M710.1 130.12V136.12M707.9 130.92L712.3 135.32M707.9 135.32L712.3 130.92" class="mk pa" stroke="#0072bd"/><path d="M717.7 108.9H723.7M720.7 105.9V111.9M718.5 106.7L722.9 111.1M718.5 111.1L722.9 106.7" class="mk pa" stroke="#0072bd"/><path d="M728.3 79.68H734.3M731.3 76.68V82.68M729.1 77.48L733.5 81.88M729.1 81.88L733.5 77.48" class="mk pa" stroke="#0072bd"/><path d="M738.9 87.92H744.9M741.9 84.92V90.92M739.7 85.72L744.1 90.12M739.7 90.12L744.1 85.72" class="mk pa" stroke="#0072bd"/><path d="M749.5 89.48H755.5M752.5 86.48V92.48M750.3 87.28L754.7 91.68M750.3 91.68L754.7 87.28" class="mk pa" stroke="#0072bd"/><path d="M760.1 83.78H766.1M763.1 80.78V86.78M760.9 81.58L765.3 85.98M760.9 85.98L765.3 81.58" class="mk pa" stroke="#0072bd"/><polyline points="582.9,113.11 593.5,110.39 604.1,99.61 614.7,114.31 625.3,92.39 635.9,121.39 646.5,131.01 657.1,94.09 667.7,183.21 678.3,144.11 688.9,118.7 699.5,95.18 710.1,174.21 720.7,121.68 731.3,131.7 741.9,103.71 752.5,117.29 763.1,122.12" class="ln" stroke="#000000"/><path d="M582.9 109.81L585.35 113.11L582.9 116.41L580.45 113.11Z" class="mk" stroke="#000000"/><path d="M593.5 107.09L595.95 110.39L593.5 113.69L591.05 110.39Z" class="mk" stroke="#000000"/><path d="M604.1 96.31L606.55 99.61L604.1 102.91L601.65 99.61Z" class="mk" stroke="#000000"/><path d="M614.7 111.01L617.15 114.31L614.7 117.61L612.25 114.31Z" class="mk" stroke="#000000"/><path d="M625.3 89.09L627.75 92.39L625.3 95.69L622.85 92.39Z" class="mk" stroke="#000000"/><path d="M635.9 118.09L638.35 121.39L635.9 124.69L633.45 121.39Z" class="mk" stroke="#000000"/><path d="M646.5 127.71L648.95 131.01L646.5 134.31L644.05 131.01Z" class="mk" stroke="#000000"/><path d="M657.1 90.79L659.55 94.09L657.1 97.39L654.65 94.09Z" class="mk" stroke="#000000"/><path d="M667.7 179.91L670.15 183.21L667.7 186.51L665.25 183.21Z" class="mk" stroke="#000000"/><path d="M678.3 140.81L680.75 144.11L678.3 147.41L675.85 144.11Z" class="mk" stroke="#000000"/><path d="M688.9 115.4L691.35 118.7L688.9 122L686.45 118.7Z" class="mk" stroke="#000000"/><path d="M699.5 91.88L701.95 95.18L699.5 98.48L697.05 95.18Z" class="mk" stroke="#000000"/><path d="M710.1 170.91L712.55 174.21L710.1 177.51L707.65 174.21Z" class="mk" stroke="#000000"/><path d="M720.7 118.38L723.15 121.68L720.7 124.98L718.25 121.68Z" class="mk" stroke="#000000"/><path d="M731.3 128.4L733.75 131.7L731.3 135L728.85 131.7Z" class="mk" stroke="#000000"/><path d="M741.9 100.41L744.35 103.71L741.9 107.01L739.45 103.71Z" class="mk" stroke="#000000"/><path d="M752.5 113.99L754.95 117.29L752.5 120.59L750.05 117.29Z" class="mk" stroke="#000000"/><path d="M763.1 118.82L765.55 122.12L763.1 125.42L760.65 122.12Z" class="mk" stroke="#000000"/><polyline points="582.9,83.09 593.5,83.09 604.1,87.09 614.7,77.4 625.3,55.22 635.9,77.4 646.5,153.7 657.1,59.1 667.7,130.03 678.3,90.1 688.9,64.11 699.5,80.3 710.1,124.95 720.7,104.62 731.3,61.5 741.9,83.78 752.5,85.78 763.1,73.11" class="ln" stroke="#0000ff"/><circle cx="582.9" cy="83.09" r="1.05" fill="#0000ff"/><circle cx="593.5" cy="83.09" r="1.05" fill="#0000ff"/><circle cx="604.1" cy="87.09" r="1.05" fill="#0000ff"/><circle cx="614.7" cy="77.4" r="1.05" fill="#0000ff"/><circle cx="625.3" cy="55.22" r="1.05" fill="#0000ff"/><circle cx="635.9" cy="77.4" r="1.05" fill="#0000ff"/><circle cx="646.5" cy="153.7" r="1.05" fill="#0000ff"/><circle cx="657.1" cy="59.1" r="1.05" fill="#0000ff"/><circle cx="667.7" cy="130.03" r="1.05" fill="#0000ff"/><circle cx="678.3" cy="90.1" r="1.05" fill="#0000ff"/><circle cx="688.9" cy="64.11" r="1.05" fill="#0000ff"/><circle cx="699.5" cy="80.3" r="1.05" fill="#0000ff"/><circle cx="710.1" cy="124.95" r="1.05" fill="#0000ff"/><circle cx="720.7" cy="104.62" r="1.05" fill="#0000ff"/><circle cx="731.3" cy="61.5" r="1.05" fill="#0000ff"/><circle cx="741.9" cy="83.78" r="1.05" fill="#0000ff"/><circle cx="752.5" cy="85.78" r="1.05" fill="#0000ff"/><circle cx="763.1" cy="73.11" r="1.05" fill="#0000ff"/></g>
<path d="M572.3 17.5H784.3V380.5H572.3Z" fill="none" stroke="#7f7f7f" stroke-width="1"/>
<path d="M582.9 380.5v-3.6M582.9 17.5v3.6M593.5 380.5v-3.6M593.5 17.5v3.6M604.1 380.5v-3.6M604.1 17.5v3.6M614.7 380.5v-3.6M614.7 17.5v3.6M625.3 380.5v-3.6M625.3 17.5v3.6M635.9 380.5v-3.6M635.9 17.5v3.6M646.5 380.5v-3.6M646.5 17.5v3.6M657.1 380.5v-3.6M657.1 17.5v3.6M667.7 380.5v-3.6M667.7 17.5v3.6M678.3 380.5v-3.6M678.3 17.5v3.6M688.9 380.5v-3.6M688.9 17.5v3.6M699.5 380.5v-3.6M699.5 17.5v3.6M710.1 380.5v-3.6M710.1 17.5v3.6M720.7 380.5v-3.6M720.7 17.5v3.6M731.3 380.5v-3.6M731.3 17.5v3.6M741.9 380.5v-3.6M741.9 17.5v3.6M752.5 380.5v-3.6M752.5 17.5v3.6M763.1 380.5v-3.6M763.1 17.5v3.6M572.3 380.5h3.6M784.3 380.5h-3.6M572.3 344.2h3.6M784.3 344.2h-3.6M572.3 307.9h3.6M784.3 307.9h-3.6M572.3 271.6h3.6M784.3 271.6h-3.6M572.3 235.3h3.6M784.3 235.3h-3.6M572.3 199h3.6M784.3 199h-3.6M572.3 162.7h3.6M784.3 162.7h-3.6M572.3 126.4h3.6M784.3 126.4h-3.6M572.3 90.1h3.6M784.3 90.1h-3.6M572.3 53.8h3.6M784.3 53.8h-3.6M572.3 17.5h3.6M784.3 17.5h-3.6" stroke="#7f7f7f" stroke-width="1" fill="none"/>
<text x="567.8" y="384.9" class="tl" text-anchor="end">0</text>
<text x="567.8" y="348.6" class="tl" text-anchor="end">0.1</text>
<text x="567.8" y="312.3" class="tl" text-anchor="end">0.2</text>
<text x="567.8" y="276" class="tl" text-anchor="end">0.3</text>
<text x="567.8" y="239.7" class="tl" text-anchor="end">0.4</text>
<text x="567.8" y="203.4" class="tl" text-anchor="end">0.5</text>
<text x="567.8" y="167.1" class="tl" text-anchor="end">0.6</text>
<text x="567.8" y="130.8" class="tl" text-anchor="end">0.7</text>
<text x="567.8" y="94.5" class="tl" text-anchor="end">0.8</text>
<text x="567.8" y="58.2" class="tl" text-anchor="end">0.9</text>
<text x="568.6" y="23.1" class="tl" style="font-size:15px" text-anchor="end">1</text>
<rect x="558.3" y="21.9" width="10.5" height="2" fill="#fff"/>
<rect x="559.3" y="13.6" width="8" height="1.9" fill="#fff"/>
<text transform="translate(546.4,199) rotate(-90)" class="yl" style="font-size:11.55px" text-anchor="middle">Area under the ROC curve (AUC)</text>
<text x="678.3" y="9.9" class="ti" text-anchor="middle">Food-webs</text>
<text transform="translate(590.7,393.7) rotate(-45)" class="tl" text-anchor="end">Chesapeake</text>
<text transform="translate(601.3,393.7) rotate(-45)" class="tl" text-anchor="end">ChesLower</text>
<text transform="translate(611.9,393.7) rotate(-45)" class="tl" text-anchor="end">ChesMedium</text>
<text transform="translate(622.5,393.7) rotate(-45)" class="tl" text-anchor="end">ChesUpper</text>
<text transform="translate(633.1,393.7) rotate(-45)" class="tl" text-anchor="end">Everglades</text>
<text transform="translate(643.7,393.7) rotate(-45)" class="tl" text-anchor="end">Florida</text>
<text transform="translate(654.3,393.7) rotate(-45)" class="tl" text-anchor="end">Grassland</text>
<text transform="translate(664.9,393.7) rotate(-45)" class="tl" text-anchor="end">Littlerock</text>
<text transform="translate(675.5,393.7) rotate(-45)" class="tl" text-anchor="end">Maspalomas</text>
<text transform="translate(686.1,393.7) rotate(-45)" class="tl" text-anchor="end">Michigan</text>
<text transform="translate(696.7,393.7) rotate(-45)" class="tl" text-anchor="end">Mondego</text>
<text transform="translate(707.3,393.7) rotate(-45)" class="tl" text-anchor="end">Narragan</text>
<text transform="translate(717.9,393.7) rotate(-45)" class="tl" text-anchor="end">Rhode</text>
<text transform="translate(728.5,393.7) rotate(-45)" class="tl" text-anchor="end">Seagrass</text>
<text transform="translate(739.1,393.7) rotate(-45)" class="tl" text-anchor="end">Silwood</text>
<text transform="translate(749.7,393.7) rotate(-45)" class="tl" text-anchor="end">StMarks</text>
<text transform="translate(760.3,393.7) rotate(-45)" class="tl" text-anchor="end">StMartins</text>
<text transform="translate(770.9,393.7) rotate(-45)" class="tl" text-anchor="end">Ythan</text>
<rect x="311.8" y="260.5" width="174.5" height="113.7" fill="#fff" stroke="#7f7f7f" stroke-width="1"/>
<path d="M314.2 269.6H340" class="ln" stroke="#ff0000"/>
<path d="M323.76 267.93H329.04L326.4 272.5Z" class="mk" stroke="#ff0000"/>
<text x="342" y="273.7" class="lg">Common Neighbors</text>
<path d="M314.2 285.7H340" class="ln" stroke="#00ff00"/>
<path d="M323.76 285.7H329.04M326.4 283.06V288.34" class="mk" stroke="#00ff00"/>
<text x="342" y="289.8" class="lg">Jaccard</text>
<path d="M314.2 301.8H340" class="ln" stroke="#ff00ff"/>
<circle cx="326.4" cy="301.8" r="2.29" class="mk" stroke="#ff00ff"/>
<text x="342" y="305.9" class="lg">Resources Allocation</text>
<path d="M314.2 317.9H340" class="ln" stroke="#ffd500"/>
<path d="M323.76 319.57H329.04L326.4 315Z" class="mk" stroke="#ffd500"/>
<text x="342" y="322" class="lg">Adamic-Adar</text>
<path d="M314.2 334H340" class="ln" stroke="#0072bd"/>
<path d="M323.76 334H329.04M326.4 331.36V336.64M324.46 332.06L328.34 335.94M324.46 335.94L328.34 332.06" class="mk pa" stroke="#0072bd"/>
<text x="342" y="338.1" class="lg">Preferential Attachment - II</text>
<path d="M314.2 350.1H340" class="ln" stroke="#000000"/>
<path d="M326.4 347.2L328.56 350.1L326.4 353L324.24 350.1Z" class="mk" stroke="#000000"/>
<text x="342" y="354.2" class="lg">Triadic Closure</text>
<path d="M314.2 366.2H340" class="ln" stroke="#0000ff"/>
<circle cx="326.4" cy="366.2" r="0.92" fill="#0000ff"/>
<text x="342" y="370.3" class="lg">DBCM</text>
</svg>
</body></html>
